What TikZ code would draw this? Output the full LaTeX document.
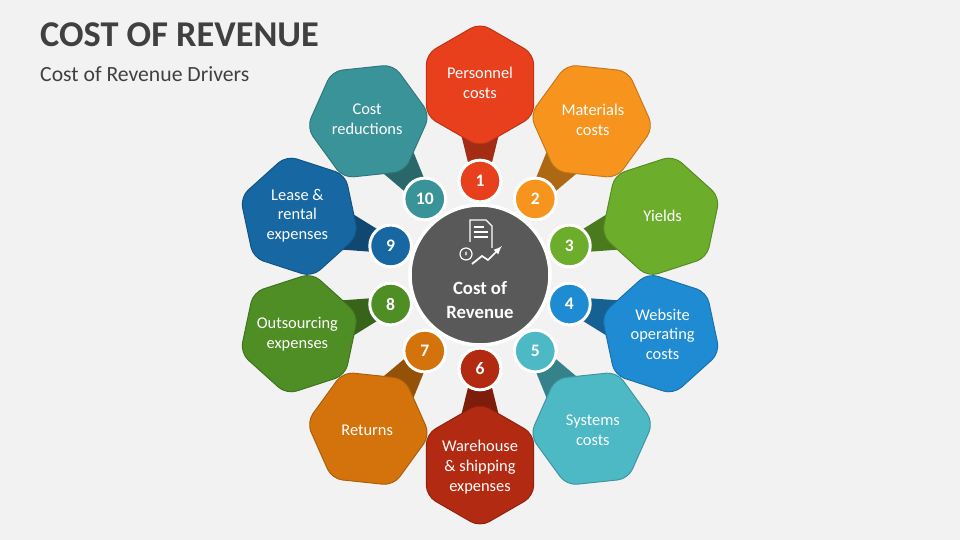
\documentclass[tikz,border=0pt]{standalone}
\usepackage{fontspec}
\setmainfont{Carlito}
\usetikzlibrary{calc}
\definecolor{bgc}{HTML}{F2F2F2}
\definecolor{titc}{HTML}{404040}
\definecolor{hubc}{HTML}{595959}
\definecolor{c1}{HTML}{E8401C}
\definecolor{c2}{HTML}{F7941D}
\definecolor{c3}{HTML}{6CAD2B}
\definecolor{c4}{HTML}{1F8BD3}
\definecolor{c5}{HTML}{4DB9C5}
\definecolor{c6}{HTML}{B32A12}
\definecolor{c7}{HTML}{D4730B}
\definecolor{c8}{HTML}{4F8D25}
\definecolor{c9}{HTML}{1767A3}
\definecolor{c10}{HTML}{3A9399}
\tikzset{
  hexlabel/.style={text=white, font=\fontsize{14}{17}\selectfont, align=center},
  numdot/.style={circle, draw=white, line width=2.5pt, minimum size=1.25cm, text=white, font=\fontsize{15}{15}\selectfont\bfseries},
}
\begin{document}
\begin{tikzpicture}[x=0.03cm,y=0.03cm]
  \fill[bgc] (0,0) rectangle (960,540);
  \useasboundingbox (0,0) rectangle (960,540);
  \node (title) at (40,505) [anchor=west, inner sep=0pt, text=titc, font=\fontsize{31}{31}\selectfont\bfseries]{COST OF REVENUE};
  \node (subtitle) at (40,466) [anchor=west, inner sep=0pt, text=titc, font=\fontsize{18.5}{18.5}\selectfont]{Cost of Revenue Drivers};
  \coordinate (o) at (480,265);
  % drivers
  \foreach \i/\c/\t in {1/c1/{Personnel\\costs}, 2/c2/{Materials\\costs}, 3/c3/{Yields}, 4/c4/{Website\\operating\\costs}, 5/c5/{Systems\\costs}, 6/c6/{Warehouse\\\& shipping\\expenses}, 7/c7/{Returns}, 8/c8/{Outsourcing\\expenses}, 9/c9/{Lease \&\\rental\\expenses}, 10/c10/{Cost\\reductions}}{
    \pgfmathsetmacro{\a}{90-36*(\i-1)}
    \fill[\c!70!black] ($(o)+(\a+8:150)$) -- ($(o)+(\a+6:112)$) -- ($(o)+(\a-6:112)$) -- ($(o)+(\a-8:150)$) -- cycle;
    \fill[\c, draw=\c!80!black, line width=0.8pt, rounded corners=9pt]
      ($(o)+(\a:190)+(\a+180:62)$) -- ($(o)+(\a:190)+(\a+240:62)$) -- ($(o)+(\a:190)+(\a+300:62)$)
      -- ($(o)+(\a:190)+(\a:62)$) -- ($(o)+(\a:190)+(\a+60:62)$) -- ($(o)+(\a:190)+(\a+120:62)$) -- cycle;
    \node[hexlabel] (hex\i) at ($(o)+(\a:192)$) {\t};
    \node[numdot, fill=\c] (num\i) at ($(o)+(\a:94)$) {\i};
  }
  \node[circle, fill=hubc, draw=white, line width=3pt, minimum size=4.2cm] (hub) at (o) {};
  \node (hubtext) at (480,240) [text=white, align=center, font=\fontsize{16}{20}\selectfont\bfseries]{Cost of\\Revenue};
  % icon
  \begin{scope}[white, line width=1pt]
    \draw (470,298) -- (470,320) -- (486,320) -- (492,314) -- (492,292);
    \draw (474,313) -- (484,313) (474,308) -- (488,308) (474,303) -- (488,303);
    \draw (466,286) circle (6);
    \node[font=\tiny\bfseries, text=white] (dollar) at (466,286) {\$};
    \draw[line width=1.5pt, -latex] (472,276) -- (482,284) -- (488,280) -- (502,294);
  \end{scope}
\end{tikzpicture}
\end{document}
